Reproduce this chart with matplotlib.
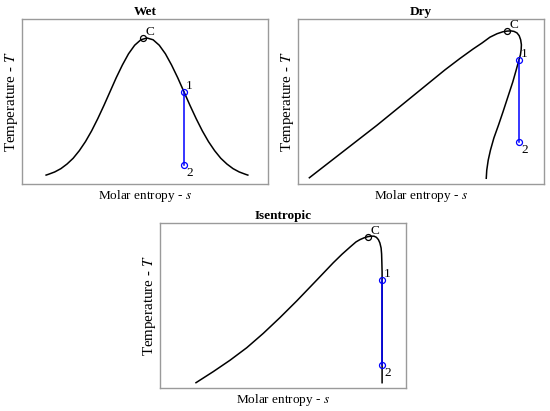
import numpy as np
import matplotlib
matplotlib.use("Agg")
import matplotlib.pyplot as plt

plt.rcParams['font.family'] = ['Liberation Serif', 'DejaVu Serif']
plt.rcParams['mathtext.fontset'] = 'stix'

# Wet - saturation dome (s, T)
wet_s = [0.98, 1.08, 1.33, 1.58, 1.83, 2.08, 2.33, 2.58, 2.83, 3.08, 3.33, 3.58, 3.83, 4.08,
         4.33, 4.58, 4.83, 5.08, 5.33, 5.58, 5.83, 6.08, 6.33, 6.58, 6.83, 7.08, 7.33, 7.58,
         7.83, 8.08, 8.33, 8.58, 8.83, 9.08, 9.18]
wet_T = [0.54, 0.59, 0.73, 0.93, 1.21, 1.56, 2.02, 2.57, 3.22, 3.96, 4.76, 5.60, 6.44, 7.21,
         7.89, 8.41, 8.74, 8.85, 8.74, 8.41, 7.89, 7.21, 6.44, 5.60, 4.76, 3.96, 3.22, 2.57,
         2.02, 1.56, 1.21, 0.93, 0.73, 0.59, 0.54]
wet_C = (4.92, 8.87)
wet_p1 = (6.58, 5.59)
wet_p2 = (6.58, 1.13)

# Dry
dry_s = [0.45, 3.20, 5.97, 6.58, 7.11, 7.48, 7.80, 8.09, 8.33, 8.51, 8.66, 8.78, 8.90, 8.99,
         9.05, 9.08, 9.07, 9.04, 8.98, 8.87, 8.73, 8.53, 8.33, 8.15, 7.96, 7.82, 7.73, 7.67, 7.65]
dry_T = [0.36, 3.54, 6.90, 7.59, 8.16, 8.53, 8.88, 9.09, 9.21, 9.25, 9.26, 9.23, 9.14, 8.97,
         8.72, 8.42, 8.12, 7.81, 7.50, 6.90, 6.17, 5.26, 4.35, 3.56, 2.77, 2.03, 1.43, 0.82, 0.33]
dry_C = (8.51, 9.25)
dry_p1 = (8.98, 7.50)
dry_p2 = (8.98, 2.53)

# Isentropic
ise_s = [1.46, 2.16, 2.84, 3.52, 4.19, 4.87, 5.55, 6.36, 7.03, 7.38, 7.71, 7.95, 8.11, 8.28,
         8.43, 8.56, 8.68, 8.78, 8.86, 8.92, 8.97, 8.99, 9.00, 9.01, 9.01, 9.01]
ise_T = [0.34, 1.01, 1.70, 2.46, 3.33, 4.29, 5.30, 6.56, 7.61, 8.12, 8.56, 8.87, 9.01, 9.12,
         9.19, 9.22, 9.22, 9.15, 9.01, 8.81, 8.50, 8.14, 7.65, 7.05, 6.56, 0.34]
ise_C = (8.43, 9.19)
ise_p1 = (9.01, 6.56)
ise_p2 = (9.01, 1.41)

fig = plt.figure(figsize=(5.5, 4.11), dpi=100)

positions = [
    [22/550, 1-184/411, 246/550, 165/411],
    [298.3/550, 1-183.7/411, 245.7/550, 165/411],
    [160/550, 1-388.3/411, 246.5/550, 165/411],
]
titles = ["Wet", "Dry", "Isentropic"]
curves = [(wet_s, wet_T), (dry_s, dry_T), (ise_s, ise_T)]
crit = [wet_C, dry_C, ise_C]
p1s = [wet_p1, dry_p1, ise_p1]
p2s = [wet_p2, dry_p2, ise_p2]

for i in range(3):
    ax = fig.add_axes(positions[i])
    s, T = curves[i]
    ax.plot(s, T, color="black", lw=1.1, solid_joinstyle="round")
    ax.plot([crit[i][0]], [crit[i][1]], "o", mfc="none", mec="black", ms=4.3, mew=0.9)
    ax.plot([p1s[i][0], p2s[i][0]], [p1s[i][1], p2s[i][1]], color="blue", lw=1.1,
            marker="o", mfc="none", mec="blue", ms=4.3, mew=0.9)
    ax.annotate("C", crit[i], xytext=(7, 6), textcoords="offset pixels",
                ha="center", va="center", fontsize=9.5)
    ax.annotate("1", p1s[i], xytext=(5, 6), textcoords="offset pixels",
                ha="center", va="center", fontsize=9.5)
    ax.annotate("2", p2s[i], xytext=(6, -8), textcoords="offset pixels",
                ha="center", va="center", fontsize=9.5)
    ax.set_xlim(0, 10)
    ax.set_ylim(0, 10)
    ax.set_xticks([])
    ax.set_yticks([])
    for sp in ax.spines.values():
        sp.set_color("#9a9a9a")
        sp.set_linewidth(1.0)
    ax.set_title(titles[i], fontsize=9.5, fontweight="bold", pad=3)
    ax.set_xlabel("Molar entropy - $s$", fontsize=9.5, labelpad=3)
    ax.set_ylabel("Temperature - $T$", fontsize=10.8, labelpad=1.5)

plt.savefig("out.png", dpi=100)
